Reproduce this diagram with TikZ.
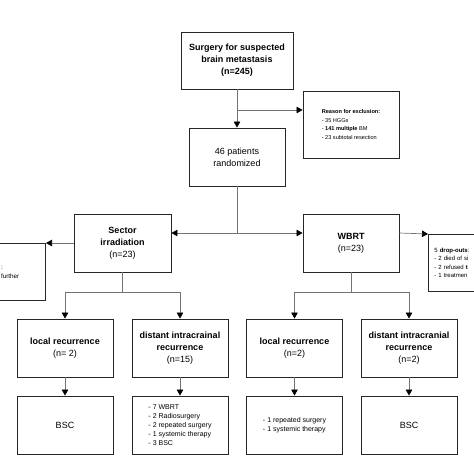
\documentclass[tikz,border=0pt]{standalone}
\usepackage{fontspec}
\setmainfont{Liberation Sans}
\usetikzlibrary{arrows.meta}
\tikzset{
  box/.style={draw=black!85, line width=0.9pt, minimum width=96pt, minimum height=58pt,
    inner sep=2pt, align=center, font=\fontsize{9}{12}\selectfont},
  notebox/.style={box, align=left, font=\fontsize{5.6}{8.7}\selectfont},
  listbox/.style={box, align=left, font=\fontsize{7}{9}\selectfont},
  link/.style={draw=black!55, line width=0.7pt},
  arr/.style={link, -{Triangle[length=6pt, width=6.5pt, color=black]}},
}
\begin{document}
\begin{tikzpicture}[x=1pt, y=-1pt]
\useasboundingbox (0,0) rectangle (474,474);
\clip (0,0) rectangle (474,474);
%% inclusion
\node[box, minimum width=112pt, minimum height=57pt, font=\bfseries\fontsize{9}{12}\selectfont] (surgery) at (237,60.5)
  {Surgery for suspected\\brain metastasis\\(n=245)};
\node[notebox, minimum height=67pt] (excl) at (351,124.5)
  {\textbf{Reason for exclusion:}\\- 35 HGGs\\- \textbf{141 multiple} BM\\- 23 subtotal resection};
\node[box] (random) at (237,157) {46 patients\\randomized};
%% arms
\node[box, minimum width=97pt] (sector) at (122.5,243) {\textbf{Sector}\\\textbf{irradiation}\\(n=23)};
\node[box] (wbrt) at (351,243) {\textbf{WBRT}\\(n=23)};
\node[notebox, font=\fontsize{6.3}{9}\selectfont, anchor=north east, inner xsep=5pt, text width=39.5pt, minimum width=0pt, minimum height=57pt] (leftout) at (46,243)
  {:\\further};
\node[notebox, font=\fontsize{6}{8.5}\selectfont, anchor=north west, inner xsep=6pt, text width=88pt, minimum width=0pt, minimum height=57pt] (dropout) at (428,234)
  {5 \textbf{drop-outs}:\\- 2 died of si\\- 2 refused \textbf{t}\\- 1 treatmen};
%% recurrences
\node[box] (loc1) at (65,348) {\textbf{local recurrence}\\(n= 2)};
\node[box] (dist1) at (180,348) {\textbf{distant intracrainal}\\\textbf{recurrence}\\(n=15)};
\node[box] (loc2) at (294.5,348) {\textbf{local recurrence}\\(n=2)};
\node[box] (dist2) at (409,348) {\textbf{distant intracranial}\\\textbf{recurrence}\\(n=2)};
%% treatment
\node[box] (bsc1) at (65,425) {BSC};
\node[listbox] (list1) at (180,425) {- 7 WBRT\\- 2 Radiosurgery\\- 2 repeated surgery\\- 1 systemic therapy\\- 3 BSC};
\node[listbox] (list2) at (294.5,425) {- 1 repeated surgery\\- 1 systemic therapy};
\node[box] (bsc2) at (409,425) {BSC};
%% connectors
\coordinate (exclfork) at (237,110);
\coordinate (trial) at (237,233);
\coordinate (sfork) at (sector.south |- 0,292);
\coordinate (wfork) at (wbrt.south |- 0,292);
\draw[arr] (surgery) -- (random);
\draw[arr] (exclfork) -- (exclfork -| excl.west);
\draw[link] (random) -- (trial);
\draw[arr] (trial) -- (trial -| sector.east);
\draw[arr] (trial) -- (trial -| wbrt.west);
\draw[arr] (sector.west) -- (leftout.north east);
\draw[arr] (wbrt.east |- trial) -- (dropout.north west);
\draw[link] (sector) -- (sfork);
\draw[link] (wbrt) -- (wfork);
\draw[arr] (sfork) -| (loc1.north);
\draw[arr] (sfork) -| (dist1.north);
\draw[arr] (wfork) -| (loc2.north);
\draw[arr] (wfork) -| (dist2.north);
\draw[arr] (loc1) -- (bsc1);
\draw[arr] (dist1) -- (list1);
\draw[arr] (loc2) -- (list2);
\draw[arr] (dist2) -- (bsc2);
\end{tikzpicture}
\end{document}
